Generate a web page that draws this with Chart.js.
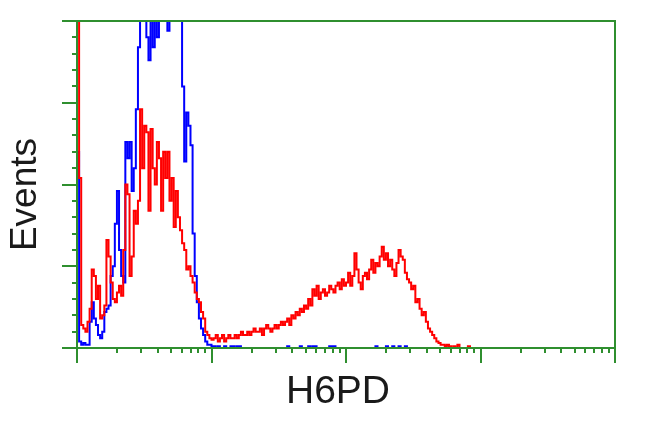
<!DOCTYPE html>
<html>
<head>
<meta charset="utf-8">
<script src="https://cdn.jsdelivr.net/npm/chart.js@4.4.1/dist/chart.umd.min.js"></script>
<style>
  html, body { margin: 0; padding: 0; background: #fff; }
  #wrap { width: 650px; height: 431px; }
</style>
</head>
<body>
<div id="wrap"><canvas id="histChart" width="650" height="431"></canvas></div>
<script>
// channel counts (256 log channels over 4 decades)
const redCounts = [
    130, 52, 7, 6, 5, 8, 12, 24, 22, 15,
    19, 9, 10, 13, 33, 28, 20, 15, 14, 17,
    19, 16, 30, 50, 47, 22, 28, 42, 38, 45,
    73, 55, 68, 66, 42, 67, 55, 50, 63, 58,
    42, 60, 52, 60, 45, 52, 37, 48, 40, 36,
    32, 30, 24, 25, 22, 20, 17, 15, 14, 11,
    9, 5, 4, 3, 2.5, 3, 4, 2, 3, 4,
    2, 3, 4, 3, 3, 4, 3, 4, 5, 4,
    4, 5, 4, 5, 6, 5, 5, 6, 4, 6,
    7, 6, 5, 6, 7, 6, 7, 8, 7, 8,
    9, 7, 10, 9, 11, 10, 12, 11, 13, 12,
    15, 13, 18, 16, 19, 15, 17, 18, 16, 17,
    19, 18, 17, 19, 20, 18, 21, 19, 20, 23,
    19, 22, 29, 24, 20, 18, 22, 23, 21, 24,
    27, 23, 26, 25, 28, 31, 27, 29, 25, 27,
    24, 22, 26, 30, 28, 27, 23, 21, 20, 18,
    19, 14, 15, 12, 10, 11, 8, 6, 5, 4,
    3, 2, 1.5, 1, 1, 0.5, 1, 0.5, 0, 0.5,
    0, 1, 0, 0, 0, 0, 0.5, 0, 0, 0
];

const blueCounts = [
    60, 2, 1, 1.5, 1, 1, 8, 14, 9, 7,
    4, 3, 5, 11, 12, 13, 22, 25, 38, 48,
    30, 22, 20, 63, 58, 63, 48, 55, 73, 92,
    120, 110, 130, 95, 88, 105, 92, 110, 95, 120,
    108, 125, 110, 97, 115, 120, 115, 125, 110, 103,
    80, 57, 72, 68, 62, 35, 22, 14, 9, 6,
    4, 2, 1, 1, 0.5, 0.5, 0, 0.5, 0, 0,
    0.5, 0, 0, 0.5, 0.5, 0, 0.5, 0.5, 0, 0,
    0, 0, 0, 0, 0, 0, 0, 0, 0, 0,
    0, 0, 0, 0, 0, 0, 0, 0, 0, 0,
    0.5, 0, 0, 0, 0, 0, 0.5, 0, 0, 0,
    0.5, 0, 0.5, 0.5, 0, 0, 0, 0, 0, 0,
    0.5, 0.5, 0.5, 0, 0, 0, 0, 0, 0, 0,
    0, 0, 0, 0, 0, 0, 0, 0, 0, 0,
    0, 0, 0.5, 0, 0, 0, 0, 0.5, 0, 0,
    0.5, 0, 0, 0.5, 0, 0, 0.5, 0, 0, 0
];

const xTitle = 'H6PD';
const yTitle = 'Events';
const xMajorTicks = [1, 10, 100, 1000, 10000];
const yMajorTicks = [0, 25, 50, 75, 100];

const channelsPerDecade = 64;
const axisColor = '#2f8f2f';

function toPoints(counts) {
    const pts = counts.map((v, i) => ({ x: Math.pow(10, i / channelsPerDecade), y: v }));
    // close the last bin
    pts.push({ x: Math.pow(10, counts.length / channelsPerDecade), y: counts[counts.length - 1] });
    return pts;
}

// minor ticks 2..9 in each decade, every 5 counts on y
const xTicks = [];
for (let d = 0; d < 4; d++) {
    for (let k = 1; k < 10; k++) xTicks.push(k * Math.pow(10, d));
}
xTicks.push(10000);
const yTicks = [];
for (let v = 0; v <= 100; v += 5) yTicks.push(v);

const frameAndTicks = {
    id: 'frameAndTicks',
    afterDatasetsDraw(chart) {
        const { ctx, chartArea: a, scales: { x, y } } = chart;
        ctx.save();
        ctx.strokeStyle = axisColor;
        ctx.lineWidth = 2;
        ctx.strokeRect(a.left, a.top, a.right - a.left, a.bottom - a.top);
        ctx.beginPath();
        xTicks.forEach(v => {
            const px = Math.round(x.getPixelForValue(v));
            const len = xMajorTicks.includes(v) ? 15 : 5;
            ctx.moveTo(px, a.bottom);
            ctx.lineTo(px, a.bottom + len);
        });
        yTicks.forEach(v => {
            const py = Math.round(y.getPixelForValue(v));
            const len = yMajorTicks.includes(v) ? 15 : 5;
            ctx.moveTo(a.left, py);
            ctx.lineTo(a.left - len, py);
        });
        ctx.stroke();

        ctx.fillStyle = '#1a1a1a';
        ctx.textAlign = 'center';
        ctx.textBaseline = 'middle';
        ctx.font = '39px "Liberation Sans", Arial, sans-serif';
        ctx.fillText(xTitle, (a.left + a.right) / 2 - 8, a.bottom + 44);
        ctx.translate(a.left - 51, (a.top + a.bottom) / 2 + 10);
        ctx.rotate(-Math.PI / 2);
        ctx.font = '37px "Liberation Sans", Arial, sans-serif';
        ctx.fillText(yTitle, 0, 0);
        ctx.restore();
    }
};

const ctx = document.getElementById('histChart').getContext('2d');
new Chart(ctx, {
    type: 'line',
    data: {
        datasets: [{
            data: toPoints(redCounts),
            borderColor: '#ff0000',
            borderWidth: 2,
            pointRadius: 0,
            stepped: 'before',
            fill: false
        }, {
            data: toPoints(blueCounts),
            borderColor: '#0000ff',
            borderWidth: 2,
            pointRadius: 0,
            stepped: 'before',
            fill: false
        }]
    },
    options: {
        responsive: false,
        animation: false,
        layout: { padding: { left: 77, right: 35, top: 21, bottom: 83 } },
        scales: {
            x: { type: 'logarithmic', min: 1, max: 10000, display: false },
            y: { type: 'linear', min: 0, max: 100, display: false }
        },
        plugins: {
            legend: { display: false },
            tooltip: { enabled: false }
        }
    },
    plugins: [frameAndTicks]
});
</script>
</body>
</html>
